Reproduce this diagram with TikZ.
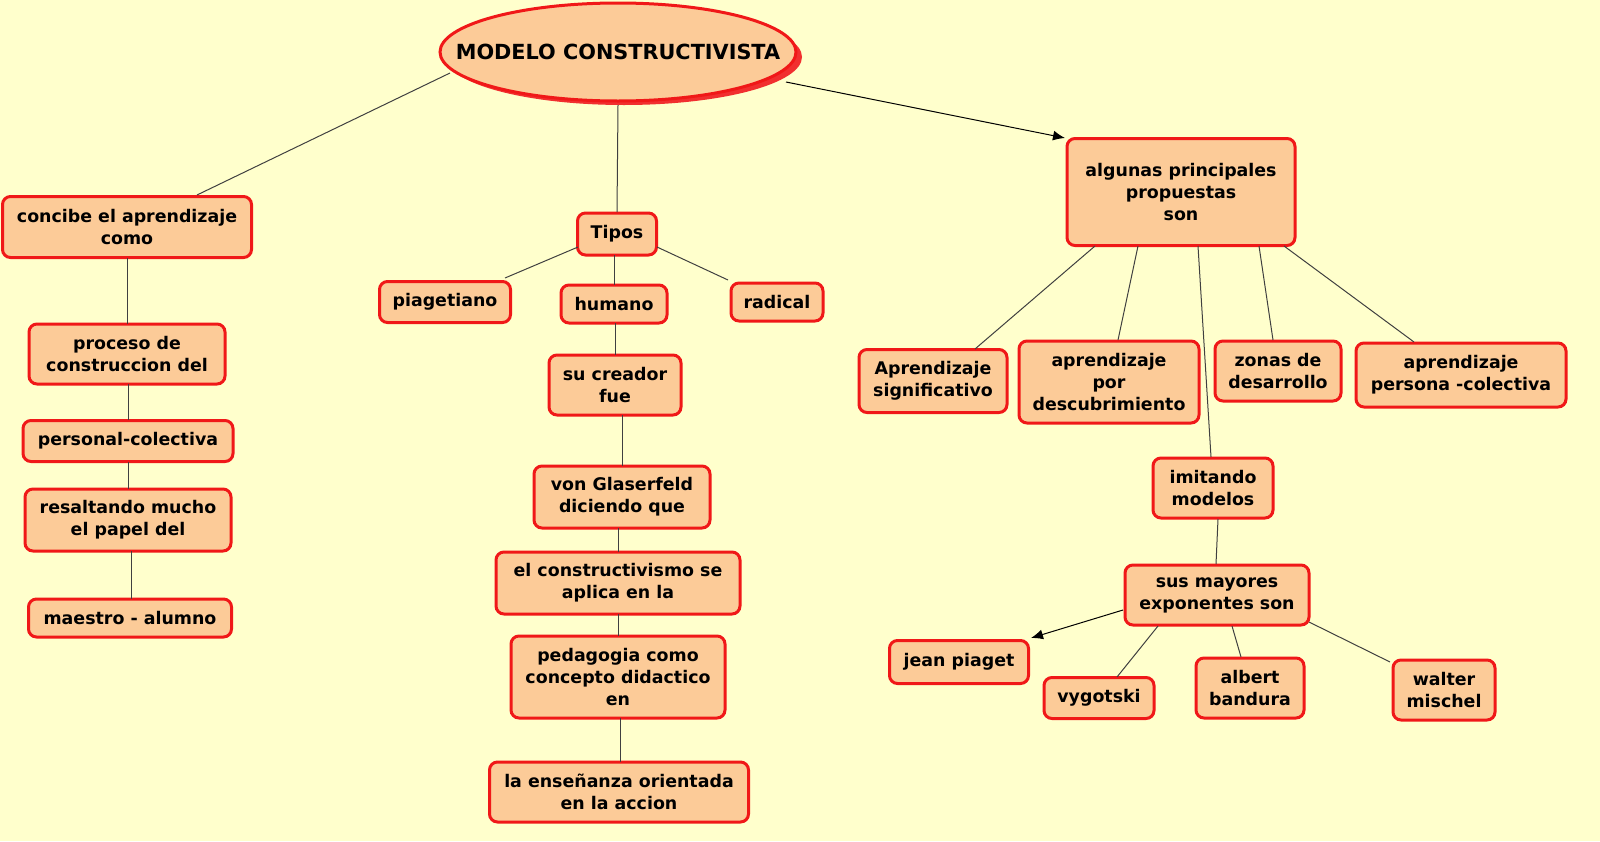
\documentclass[tikz,border=0pt]{standalone}
\usepackage{fontspec}
\setmainfont{DejaVu Sans}
\usetikzlibrary{calc,shapes.geometric,arrows.meta}
\definecolor{bgc}{HTML}{FFFFCC}
\definecolor{boxc}{HTML}{FCCB98}
\definecolor{redc}{HTML}{F01818}
\tikzset{
  bx/.style={draw=redc,fill=boxc,line width=1.5pt,rounded corners=4pt,align=center,inner sep=0pt,
    font=\fontsize{8.7}{11}\selectfont\bfseries},
  ln/.style={draw=black!75,line width=0.5pt},
  ar/.style={draw=black,line width=0.5pt,-{Latex[length=6pt,width=5pt]}},
}
\newcommand{\bxn}[6]{\node[bx,minimum width=#4*0.5pt,minimum height=#5*0.5pt] (#1) at (#2,#3) {#6};}
\begin{document}
\begin{tikzpicture}[x=0.5pt,y=-0.5pt]
\fill[bgc] (0,0) rectangle (1600,841);
\useasboundingbox (0,0) rectangle (1600,841);
% ellipse with shadow
\fill[redc!90] (624,57) ellipse (178 and 48);
\draw[redc,fill=boxc,line width=1.5pt] (618,52) ellipse (178 and 49);
\node[inner sep=0pt,font=\fontsize{10.4}{12}\selectfont\bfseries] (ell) at (618,52) {MODELO CONSTRUCTIVISTA};
% left
\bxn{conc}{127}{227}{249}{61}{concibe el aprendizaje\\como}
\bxn{proc}{127}{354}{196}{60}{proceso de\\construccion del}
\bxn{pers}{128}{441}{210}{41}{personal-colectiva}
\bxn{resa}{128}{520}{206}{62}{resaltando mucho\\ el papel del}
\bxn{maes}{130}{618}{203}{38}{maestro - alumno}
% middle
\bxn{tipo}{617}{234}{79}{42}{Tipos}
\bxn{piag}{445}{302}{131}{41}{piagetiano}
\bxn{huma}{614}{304}{106}{38}{humano}
\bxn{radi}{777}{302}{92}{38}{radical}
\bxn{crea}{615}{385}{132}{60}{su creador\\fue}
\bxn{vong}{622}{497}{176}{62}{von Glaserfeld\\diciendo que}
\bxn{cons}{618}{583}{244}{62}{el constructivismo se\\aplica en la}
\bxn{peda}{618}{677}{214}{82}{pedagogia como\\concepto didactico\\en}
\bxn{ense}{619}{792}{259}{60}{la enseñanza orientada\\en la accion}
% right
\bxn{algu}{1181}{192}{228}{107}{algunas principales\\propuestas\\son}
\bxn{sign}{933}{381}{148}{63}{Aprendizaje\\significativo}
\bxn{desc}{1109}{382}{180}{82}{aprendizaje\\por\\descubrimiento}
\bxn{zona}{1278}{371}{126}{60}{zonas de\\desarrollo}
\bxn{peco}{1461}{375}{210}{64}{aprendizaje\\persona -colectiva}
\bxn{imit}{1213}{488}{120}{60}{imitando\\modelos}
\bxn{susm}{1217}{595}{184}{60}{sus mayores\\exponentes son}
\bxn{jean}{959}{662}{139}{43}{jean piaget}
\bxn{vygo}{1099}{698}{110}{41}{vygotski}
\bxn{albe}{1250}{688}{108}{60}{albert\\bandura}
\bxn{walt}{1444}{690}{102}{60}{walter\\mischel}
% connectors
\draw[ln] ($(ell)+(-168,21)$) -- ($(conc)+(70,-32)$);
\draw[ln] ($(ell)+(0,53)$) -- ($(tipo)+(0,-22)$);
\draw[ar] ($(ell)+(168,30)$) -- ($(algu)+(-116,-54)$);
\draw[ln] ($(conc)+(0,31)$) -- ($(proc)+(0,-30)$);
\draw[ln] ($(proc)+(1,30)$) -- ($(pers)+(0,-21)$);
\draw[ln] ($(pers)+(0,21)$) -- ($(resa)+(0,-31)$);
\draw[ln] ($(resa)+(3,31)$) -- ($(maes)+(1,-19)$);
\draw[ln] ($(tipo)+(-39,13)$) -- ($(piag)+(60,-24)$);
\draw[ln] ($(tipo)+(-3,21)$) -- ($(huma)+(0,-19)$);
\draw[ln] ($(tipo)+(40,13)$) -- ($(radi)+(-49,-22)$);
\draw[ln] ($(huma)+(1,19)$) -- ($(crea)+(0,-30)$);
\draw[ln] ($(crea)+(7,30)$) -- ($(vong)+(0,-31)$);
\draw[ln] ($(vong)+(-4,31)$) -- ($(cons)+(0,-31)$);
\draw[ln] ($(cons)+(0,31)$) -- ($(peda)+(0,-41)$);
\draw[ln] ($(peda)+(2,41)$) -- ($(ense)+(1,-30)$);
\draw[ln] ($(algu)+(-86,54)$) -- ($(sign)+(42,-32)$);
\draw[ln] ($(algu)+(-43,54)$) -- ($(desc)+(9,-42)$);
\draw[ln] ($(algu)+(17,54)$) -- ($(imit)+(-2,-31)$);
\draw[ln] ($(algu)+(78,54)$) -- ($(zona)+(-5,-31)$);
\draw[ln] ($(algu)+(103,54)$) -- ($(peco)+(-47,-33)$);
\draw[ln] ($(imit)+(5,31)$) -- ($(susm)+(-1,-31)$);
\draw[ar] ($(susm)+(-94,15)$) -- ($(jean)+(72,-24)$);
\draw[ln] ($(susm)+(-59,31)$) -- ($(vygo)+(18,-21)$);
\draw[ln] ($(susm)+(15,31)$) -- ($(albe)+(-9,-31)$);
\draw[ln] ($(susm)+(92,27)$) -- ($(walt)+(-54,-28)$);
\end{tikzpicture}
\end{document}
